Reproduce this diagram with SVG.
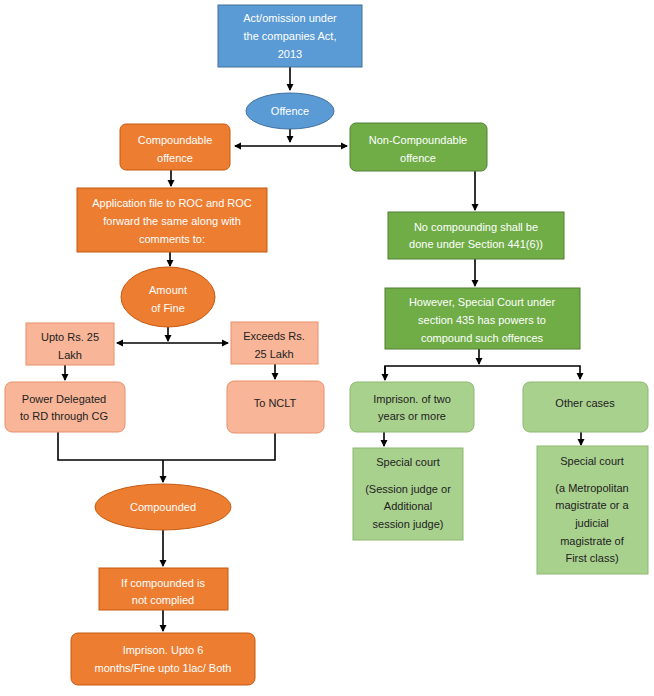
<svg xmlns="http://www.w3.org/2000/svg" width="654" height="696" viewBox="0 0 654 696">
<style>
text{font-family:"Liberation Sans",Arial,sans-serif;font-size:11px;text-anchor:middle}
.w{fill:#fff}.k{fill:#222}
.blue{fill:#5B9BD5;stroke:#41719C}
.or{fill:#ED7D31;stroke:#C55A11}
.gr{fill:#70AD47;stroke:#507E32}
.sal{fill:#F8B597;stroke:#E8906A}
.lg{fill:#A9D18E;stroke:#8DB870}
.c line,.c path{stroke:#000;stroke-width:1.6;fill:none}
</style>
<defs><marker id="a" markerWidth="8" markerHeight="8" refX="6" refY="4" orient="auto" markerUnits="userSpaceOnUse"><path d="M0,0.5L7,4L0,7.5z" fill="#000"/></marker></defs>
<rect width="654" height="696" fill="#fff"/>
<g class="c">
<line x1="290" y1="67" x2="290" y2="90" marker-end="url(#a)"/>
<line x1="290" y1="129" x2="290" y2="142" marker-end="url(#a)"/>
<line x1="290" y1="146" x2="235" y2="146" marker-end="url(#a)"/>
<line x1="290" y1="146" x2="347" y2="146" marker-end="url(#a)"/>
<line x1="171" y1="170" x2="171" y2="186" marker-end="url(#a)"/>
<line x1="170" y1="252" x2="170" y2="266" marker-end="url(#a)"/>
<line x1="168" y1="327" x2="168" y2="341" marker-end="url(#a)"/>
<line x1="168" y1="343" x2="117" y2="343" marker-end="url(#a)"/>
<line x1="168" y1="343" x2="228" y2="343" marker-end="url(#a)"/>
<line x1="65" y1="365" x2="65" y2="380" marker-end="url(#a)"/>
<line x1="275" y1="364" x2="275" y2="379" marker-end="url(#a)"/>
<path d="M58,432V460H275V433"/>
<line x1="163" y1="460" x2="163" y2="482" marker-end="url(#a)"/>
<line x1="163" y1="530" x2="163" y2="566" marker-end="url(#a)"/>
<line x1="163" y1="610" x2="163" y2="631" marker-end="url(#a)"/>
<line x1="475" y1="171" x2="475" y2="210" marker-end="url(#a)"/>
<line x1="475" y1="259" x2="475" y2="286" marker-end="url(#a)"/>
<line x1="479" y1="349" x2="479" y2="364" marker-end="url(#a)"/>
<path d="M385,379V366H580V379" marker-end="url(#a)"/>
<line x1="385" y1="366" x2="385" y2="380" marker-end="url(#a)"/>
<line x1="384" y1="432" x2="384" y2="446" marker-end="url(#a)"/>
<line x1="581" y1="432" x2="581" y2="445" marker-end="url(#a)"/>
</g>
<g id="act"><rect class="blue" x="218" y="5" width="144" height="62"/><text class="w" x="290" y="22">Act/omission under</text><text class="w" x="290" y="40">the companies Act,</text><text class="w" x="290" y="58">2013</text></g>
<g id="offence"><ellipse class="blue" cx="290" cy="111" rx="44" ry="18"/><text class="w" x="290" y="115">Offence</text></g>
<g id="comp"><rect class="or" x="120" y="124" width="110" height="46" rx="6"/><text class="w" x="175" y="144">Compoundable</text><text class="w" x="175" y="162">offence</text></g>
<g id="noncomp"><rect class="gr" x="350" y="123" width="137" height="48" rx="6"/><text class="w" x="418" y="144">Non-Compoundable</text><text class="w" x="418" y="162">offence</text></g>
<g id="app"><rect class="or" x="77" y="188" width="190" height="64"/><text class="w" x="172" y="207">Application file to ROC and ROC</text><text class="w" x="172" y="225">forward the same along with</text><text class="w" x="172" y="243">comments to:</text></g>
<g id="amount"><ellipse class="or" cx="168" cy="297" rx="47" ry="30"/><text class="w" x="168" y="294">Amount</text><text class="w" x="168" y="312">of Fine</text></g>
<g id="upto"><rect class="sal" x="26" y="323" width="88" height="42"/><text class="k" x="70" y="341">Upto Rs. 25</text><text class="k" x="70" y="359">Lakh</text></g>
<g id="exceeds"><rect class="sal" x="231" y="322" width="87" height="42"/><text class="k" x="274" y="340">Exceeds Rs.</text><text class="k" x="274" y="358">25 Lakh</text></g>
<g id="power"><rect class="sal" x="5" y="382" width="120" height="50" rx="7"/><text class="k" x="64" y="403">Power Delegated</text><text class="k" x="64" y="420">to RD through CG</text></g>
<g id="nclt"><rect class="sal" x="227" y="381" width="97" height="52" rx="7"/><text class="k" x="275" y="407">To NCLT</text></g>
<g id="compounded"><ellipse class="or" cx="163" cy="507" rx="68" ry="23"/><text class="w" x="163" y="511">Compounded</text></g>
<g id="ifcomp"><rect class="or" x="99" y="568" width="129" height="42"/><text class="w" x="163" y="587">If compounded is</text><text class="w" x="163" y="604">not complied</text></g>
<g id="impr"><rect class="or" x="71" y="633" width="184" height="52" rx="7"/><text class="w" x="163" y="654">Imprison. Upto 6</text><text class="w" x="163" y="672">months/Fine upto 1lac/ Both</text></g>
<g id="nocomp"><rect class="gr" x="388" y="212" width="176" height="47"/><text class="w" x="476" y="231">No compounding shall be</text><text class="w" x="476" y="248">done under Section 441(6))</text></g>
<g id="however"><rect class="gr" x="385" y="288" width="195" height="61"/><text class="w" x="482" y="306">However, Special Court under</text><text class="w" x="482" y="324">section 435 has powers to</text><text class="w" x="482" y="342">compound such offences</text></g>
<g id="twoyears"><rect class="lg" x="350" y="382" width="124" height="50" rx="7"/><text class="k" x="412" y="403">Imprison. of two</text><text class="k" x="412" y="420">years or more</text></g>
<g id="other"><rect class="lg" x="523" y="382" width="125" height="50" rx="7"/><text class="k" x="585" y="407">Other cases</text></g>
<g id="sc1"><rect class="lg" x="353" y="448" width="110" height="92"/><text class="k" x="408" y="466">Special court</text><text class="k" x="408" y="493">(Session judge or</text><text class="k" x="408" y="510">Additional</text><text class="k" x="408" y="528">session judge)</text></g>
<g id="sc2"><rect class="lg" x="537" y="446" width="111" height="128"/><text class="k" x="592" y="465">Special court</text><text class="k" x="592" y="492">(a Metropolitan</text><text class="k" x="592" y="509">magistrate or a</text><text class="k" x="592" y="527">judicial</text><text class="k" x="592" y="545">magistrate of</text><text class="k" x="592" y="562">First class)</text></g>
</svg>
